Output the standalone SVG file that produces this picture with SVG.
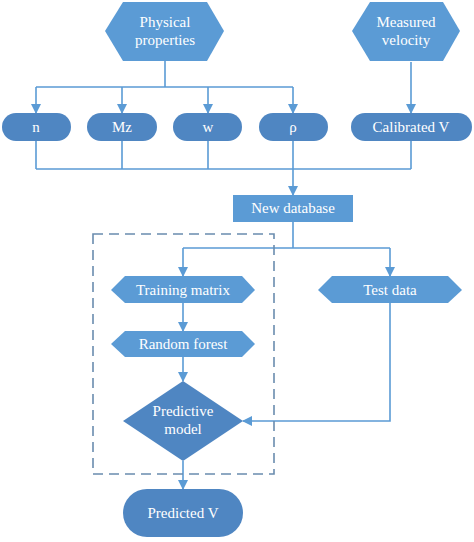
<svg xmlns="http://www.w3.org/2000/svg" width="474" height="542" viewBox="0 0 474 542">
<defs>
<style>
.hex{fill:#5b9bd5;}
.dark{fill:#4f86c2;}
.t{fill:#fff;font-family:'Liberation Serif','DejaVu Serif',serif;font-size:15px;text-anchor:middle;}
.c{stroke:#5b9bd5;stroke-width:1.6;fill:none;}
.dash{stroke:#6a8cae;stroke-width:1.6;fill:none;stroke-dasharray:10,6;}
</style>
<marker id="ah" markerWidth="10" markerHeight="10" refX="9" refY="5" orient="auto" markerUnits="userSpaceOnUse">
<path d="M0,0 L10,5 L0,10 Z" fill="#5b9bd5"/>
</marker>
</defs>
<rect width="474" height="542" fill="#fff"/>
<g id="connectors">
<path class="c" d="M165,61 V87 M36,87 H293"/>
<path class="c" marker-end="url(#ah)" d="M36,87 V113"/>
<path class="c" marker-end="url(#ah)" d="M122,87 V113"/>
<path class="c" marker-end="url(#ah)" d="M208,87 V113"/>
<path class="c" marker-end="url(#ah)" d="M293,87 V113"/>
<path class="c" marker-end="url(#ah)" d="M411,62 V113"/>
<path class="c" d="M36,141 V169 M122,141 V169 M208,141 V169 M411,141 V169 M36,169 H411"/>
<path class="c" marker-end="url(#ah)" d="M293,141 V195"/>
<path class="c" d="M293,222 V248 M183,248 H390"/>
<path class="c" marker-end="url(#ah)" d="M183,248 V276"/>
<path class="c" marker-end="url(#ah)" d="M390,248 V276"/>
<path class="c" marker-end="url(#ah)" d="M183,303 V331"/>
<path class="c" marker-end="url(#ah)" d="M183,357 V381"/>
<path class="c" marker-end="url(#ah)" d="M390,303 V421 H243"/>
<path class="c" marker-end="url(#ah)" d="M183,461 V489"/>
</g>
<g id="cluster">
<rect class="dash" x="93" y="234" width="181" height="240"/>
</g>
<g id="physical">
<polygon class="hex" points="123,2 207,2 224,31 207,61 123,61 105,31"/>
<text class="t" x="165" y="27">Physical</text>
<text class="t" x="165" y="45">properties</text>
</g>
<g id="measured">
<polygon class="hex" points="370,2 443,2 460,31 443,61 370,61 352,31"/>
<text class="t" x="406" y="27">Measured</text>
<text class="t" x="406" y="45">velocity</text>
</g>
<g id="n"><rect class="dark" x="2" y="113" width="69" height="28" rx="14"/><text class="t" x="36" y="132">n</text></g>
<g id="mz"><rect class="dark" x="87" y="113" width="70" height="28" rx="14"/><text class="t" x="122" y="132">Mz</text></g>
<g id="w"><rect class="dark" x="173" y="113" width="69" height="28" rx="14"/><text class="t" x="208" y="132">w</text></g>
<g id="rho"><rect class="dark" x="259" y="113" width="69" height="28" rx="14"/><text class="t" x="293" y="132">ρ</text></g>
<g id="calibrated"><rect class="dark" x="351" y="113" width="121" height="28" rx="14"/><text class="t" x="411" y="132">Calibrated V</text></g>
<g id="newdb"><rect class="hex" x="233" y="195" width="120" height="27"/><text class="t" x="293" y="213">New database</text></g>
<g id="training"><polygon class="hex" points="125,276 242,276 255,290 242,303 125,303 111,290"/><text class="t" x="183" y="295">Training matrix</text></g>
<g id="test"><polygon class="hex" points="332,276 448,276 462,290 448,303 332,303 318,290"/><text class="t" x="390" y="295">Test data</text></g>
<g id="rf"><polygon class="hex" points="125,331 242,331 255,344 242,357 125,357 111,344"/><text class="t" x="183" y="349">Random forest</text></g>
<g id="model"><polygon class="dark" points="183,381 243,421 183,461 123,421"/><text class="t" x="183" y="416">Predictive</text><text class="t" x="183" y="434">model</text></g>
<g id="predicted"><rect class="dark" x="123" y="489" width="120" height="48" rx="24"/><text class="t" x="183" y="518">Predicted V</text></g>
</svg>
